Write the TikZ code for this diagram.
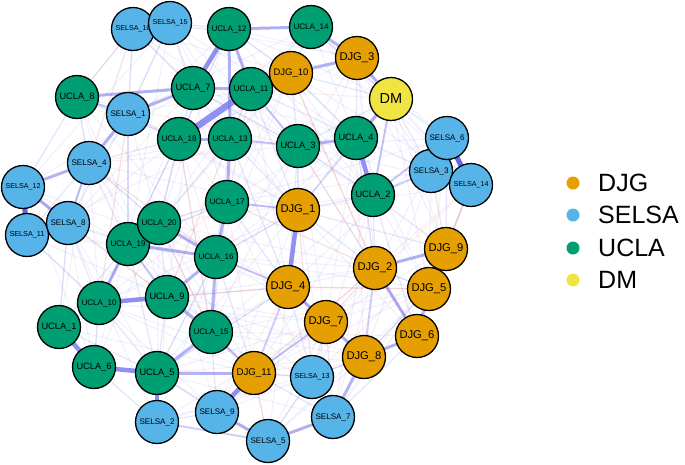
\documentclass[tikz,border=0pt]{standalone}
\usepackage{fontspec}
\setmainfont{Liberation Sans}
\usepackage{graphicx}
\definecolor{cdjg}{HTML}{E69F00}
\definecolor{cselsa}{HTML}{56B4E9}
\definecolor{cucla}{HTML}{009E73}
\definecolor{cdm}{HTML}{F0E442}
\definecolor{eblue}{RGB}{118,118,235}
\definecolor{edark}{RGB}{92,92,225}
\definecolor{ered}{RGB}{235,150,150}
\newcommand\lb[1]{\resizebox{35pt}{!}{#1}}
\newdimen\ddx \newdimen\ddy
\tikzset{
  nd/.style={circle, draw=black, line width=1.3pt, minimum size=43pt, inner sep=0pt, font=\fontsize{8}{8}\selectfont},
  dj/.style={nd, fill=cdjg},
  se/.style={nd, fill=cselsa},
  uc/.style={nd, fill=cucla},
  dmn/.style={nd, fill=cdm},
  eh/.style={draw=eblue, line width=1.1pt, opacity=0.1},
  ehr/.style={draw=ered, line width=1.1pt, opacity=0.16},
  ef/.style={draw=eblue, line width=1.3pt, opacity=0.18},
  er/.style={draw=ered, line width=1.2pt, opacity=0.3},
  el/.style={draw=eblue, line width=2pt, opacity=0.35},
  em/.style={draw=eblue, line width=3pt, opacity=0.55},
  et/.style={draw=eblue, line width=4.5pt, opacity=0.8},
  ed/.style={draw=edark, line width=5pt, opacity=0.95},
  legdot/.style={circle, inner sep=0pt, minimum size=13pt},
  legtxt/.style={anchor=west, inner sep=0pt, font=\fontsize{25}{25}\selectfont}
}
\begin{document}
\begin{tikzpicture}[x=1pt, y=-1pt]
\useasboundingbox (0,0) rectangle (685,464);
% coordinates
\coordinate (pS10) at (133,29);  \coordinate (pS15) at (170,23);
\coordinate (pU12) at (229,29);  \coordinate (pU14) at (311,27);
\coordinate (pD3) at (357,58);   \coordinate (pD10) at (291,73);
\coordinate (pU11) at (251,89);  \coordinate (pU7) at (193,88);
\coordinate (pU8) at (77,97);    \coordinate (pS1) at (128,114);
\coordinate (pU18) at (179,139); \coordinate (pU13) at (230,139);
\coordinate (pDM) at (391,99);   \coordinate (pU4) at (356,138);
\coordinate (pU3) at (298,146);  \coordinate (pS6) at (447,138);
\coordinate (pS3) at (431,171);  \coordinate (pS14) at (471,185);
\coordinate (pU2) at (373,195);  \coordinate (pS4) at (89,163);
\coordinate (pS12) at (23,187);  \coordinate (pS11) at (27,235);
\coordinate (pS8) at (68,223);   \coordinate (pU20) at (159,223);
\coordinate (pU19) at (128,244); \coordinate (pU17) at (227,202);
\coordinate (pU16) at (216,257); \coordinate (pJ1) at (298,210);
\coordinate (pJ9) at (446,249);  \coordinate (pJ2) at (375,268);
\coordinate (pJ5) at (429,289);  \coordinate (pJ4) at (288,287);
\coordinate (pU9) at (167,297);  \coordinate (pU10) at (99,303);
\coordinate (pU1) at (59,327);   \coordinate (pU15) at (211,332);
\coordinate (pU6) at (94,367);   \coordinate (pU5) at (157,373);
\coordinate (pS2) at (157,422);  \coordinate (pS9) at (217,412);
\coordinate (pJ11) at (254,373); \coordinate (pJ7) at (326,322);
\coordinate (pJ6) at (417,336);  \coordinate (pJ8) at (364,357);
\coordinate (pS13) at (312,377); \coordinate (pS7) at (333,417);
\coordinate (pS5) at (268,441);
% background haze of very weak edges
\pgfmathsetseed{11}
\foreach \a [count=\i] in {S10,S15,U12,U14,D3,D10,U11,U7,U8,S1,U18,U13,DM,U4,U3,S6,S3,S14,U2,S4,S12,S11,S8,U20,U19,U17,U16,J1,J9,J2,J5,J4,U9,U10,U1,U15,U6,U5,S2,S9,J11,J7,J6,J8,S13,S7,S5}{
  \foreach \b [count=\j] in {S10,S15,U12,U14,D3,D10,U11,U7,U8,S1,U18,U13,DM,U4,U3,S6,S3,S14,U2,S4,S12,S11,S8,U20,U19,U17,U16,J1,J9,J2,J5,J4,U9,U10,U1,U15,U6,U5,S2,S9,J11,J7,J6,J8,S13,S7,S5}{
    \ifnum\i<\j
      \pgfextractx{\ddx}{\pgfpointdiff{\pgfpointanchor{p\a}{center}}{\pgfpointanchor{p\b}{center}}}
      \pgfextracty{\ddy}{\pgfpointdiff{\pgfpointanchor{p\a}{center}}{\pgfpointanchor{p\b}{center}}}
      \pgfmathveclen{\ddx}{\ddy}
      \ifdim\pgfmathresult pt<230pt
        \pgfmathrnd
        \ifdim\pgfmathresult pt<0.33pt
          \draw[eh] (p\a) -- (p\b);
        \else
          \ifdim\pgfmathresult pt<0.39pt
            \draw[ehr] (p\a) -- (p\b);
          \fi
        \fi
      \fi
    \fi
  }
}
% faint edges
\foreach \a/\b in {S10/U8, S10/S1, S15/U7, S15/U12, S10/U7, U8/S1, U8/S4, U8/S12,
  S1/U18, S1/S8, S4/S8, S4/U20, S4/U18, U7/U13, U7/U18, U11/U13, U11/D10, U11/U3,
  U12/D10, U14/D10, U14/U11, D10/U3, D10/DM, DM/U3, DM/U2, DM/S6, DM/J1, U4/J1,
  U4/S3, U3/J1, U3/U13, U3/U2, U13/J1, U13/U20, U18/U20, U18/U19, U17/J1, U17/U19,
  U17/U20, U17/J4, J1/J2, J1/U2, U2/J2, U2/J9, S3/J9, S14/J5, J9/J6, J2/J5, J2/J7,
  J4/J8, J4/U16, J7/J11, J7/S13, J8/S13, S13/S7, S13/J11, S13/S5, S9/S2,
  S9/U5, U15/J11, U9/U19, U9/U5, U10/U1, U10/U6, U10/U19, U1/U19, U1/S8, S11/U10,
  S8/U19, S8/U10, U6/S2, U20/U9, U16/J1, U13/U16, S1/U19, U11/J1, U7/U3, U11/U4,
  D10/U4, U3/J4, U17/U15, U16/J11, U15/S9, U5/J4, J11/S7, J1/J9, U2/J6, S6/J9,
  U12/U18, S15/S1, U8/U18, S4/U19, S12/S8, U19/U5, U10/U5, U1/U5, U9/J11, U16/U5,
  J4/S13, J7/S7, J6/S7, J5/J8, U4/J2, DM/S3, U14/DM, D3/U4, U13/J4}
  {\draw[ef] (p\a) -- (p\b);}
% faint red edges
\foreach \a/\b in {S1/U10, U18/U15, J4/U9, J4/J5, S14/J9, J11/S5, U17/J2, U3/J6,
  S4/U16, U13/U9, D10/J2, J1/S13, U20/U15, S8/U9, J2/J11}
  {\draw[er] (p\a) -- (p\b);}
% light edges
\foreach \a/\b in {U2/S6, U2/S3, J2/J8, S2/S5, J4/J11, J7/J11, U9/U19, U16/J4,
  U17/J1, U3/U13, U11/U3, U8/S1, S4/S8, U15/J11, DM/U2}
  {\draw[el] (p\a) -- (p\b);}
% medium edges
\foreach \a/\b in {U12/U14, U14/D3, D3/D10, D3/DM, DM/U4, U3/U4, U8/U7, S1/U7,
  S4/S12, S1/S4, U13/U17, U19/U16, U20/U16, U17/U16, U16/U9, U16/U15, J2/J9,
  J2/J6, J5/J6, J4/J7, J7/J8, U5/J11, U5/U15, U9/U15, S9/S5, S5/S7, S7/J8,
  U12/U11, U7/U11, U18/U13, S8/S12, S11/S8, J9/J5, J6/J8, S10/S15, S6/S3,
  S3/S14, U12/U13, U19/U20, U10/U19}
  {\draw[em] (p\a) -- (p\b);}
% thick edges
\foreach \a/\b in {U12/U7, U4/U2, J1/J4, U1/U6, U6/U5, U10/U9, J11/S9, U5/S2}
  {\draw[et] (p\a) -- (p\b);}
\draw[et, line width=6.5pt] (pU18) -- (pU11);
\draw[ed] (pS6) -- (pS14);
\draw[ed] (pS12) -- (pS11);
% nodes
\node[se] (S10) at (pS10) {\lb{SELSA\_10}};
\node[se] (S15) at (pS15) {\lb{SELSA\_15}};
\node[uc] (U12) at (pU12) {\lb{UCLA\_12}};
\node[uc] (U14) at (pU14) {\lb{UCLA\_14}};
\node[dj] (D3) at (pD3) {\lb{DJG\_3}};
\node[uc] (U11) at (pU11) {\lb{UCLA\_11}};
\node[dj] (D10) at (pD10) {\lb{DJG\_10}};
\node[uc] (U7) at (pU7) {\lb{UCLA\_7}};
\node[uc] (U8) at (pU8) {\lb{UCLA\_8}};
\node[se] (S1) at (pS1) {\lb{SELSA\_1}};
\node[uc] (U18) at (pU18) {\lb{UCLA\_18}};
\node[uc] (U13) at (pU13) {\lb{UCLA\_13}};
\node[dmn] (DM) at (pDM) {\fontsize{14.5}{14.5}\selectfont DM};
\node[uc] (U4) at (pU4) {\lb{UCLA\_4}};
\node[uc] (U3) at (pU3) {\lb{UCLA\_3}};
\node[se] (S3) at (pS3) {\lb{SELSA\_3}};
\node[se] (S6) at (pS6) {\lb{SELSA\_6}};
\node[se] (S14) at (pS14) {\lb{SELSA\_14}};
\node[uc] (U2) at (pU2) {\lb{UCLA\_2}};
\node[se] (S4) at (pS4) {\lb{SELSA\_4}};
\node[se] (S12) at (pS12) {\lb{SELSA\_12}};
\node[se] (S11) at (pS11) {\lb{SELSA\_11}};
\node[se] (S8) at (pS8) {\lb{SELSA\_8}};
\node[uc] (U19) at (pU19) {\lb{UCLA\_19}};
\node[uc] (U20) at (pU20) {\lb{UCLA\_20}};
\node[uc] (U17) at (pU17) {\lb{UCLA\_17}};
\node[uc] (U16) at (pU16) {\lb{UCLA\_16}};
\node[dj] (J1) at (pJ1) {\lb{DJG\_1}};
\node[dj] (J9) at (pJ9) {\lb{DJG\_9}};
\node[dj] (J5) at (pJ5) {\lb{DJG\_5}};
\node[dj] (J2) at (pJ2) {\lb{DJG\_2}};
\node[dj] (J4) at (pJ4) {\lb{DJG\_4}};
\node[uc] (U9) at (pU9) {\lb{UCLA\_9}};
\node[uc] (U10) at (pU10) {\lb{UCLA\_10}};
\node[uc] (U1) at (pU1) {\lb{UCLA\_1}};
\node[uc] (U15) at (pU15) {\lb{UCLA\_15}};
\node[uc] (U6) at (pU6) {\lb{UCLA\_6}};
\node[uc] (U5) at (pU5) {\lb{UCLA\_5}};
\node[se] (S2) at (pS2) {\lb{SELSA\_2}};
\node[se] (S9) at (pS9) {\lb{SELSA\_9}};
\node[dj] (J11) at (pJ11) {\lb{DJG\_11}};
\node[dj] (J7) at (pJ7) {\lb{DJG\_7}};
\node[dj] (J6) at (pJ6) {\lb{DJG\_6}};
\node[dj] (J8) at (pJ8) {\lb{DJG\_8}};
\node[se] (S13) at (pS13) {\lb{SELSA\_13}};
\node[se] (S7) at (pS7) {\lb{SELSA\_7}};
\node[se] (S5) at (pS5) {\lb{SELSA\_5}};
% legend
\node[legdot, fill=cdjg] (L1) at (573,183) {};
\node[legtxt] (T1) at (598,183) {DJG};
\node[legdot, fill=cselsa] (L2) at (573,215) {};
\node[legtxt] (T2) at (598,215) {SELSA};
\node[legdot, fill=cucla] (L3) at (573,248) {};
\node[legtxt] (T3) at (598,248) {UCLA};
\node[legdot, fill=cdm] (L4) at (573,280) {};
\node[legtxt] (T4) at (598,280) {DM};
\end{tikzpicture}
\end{document}
